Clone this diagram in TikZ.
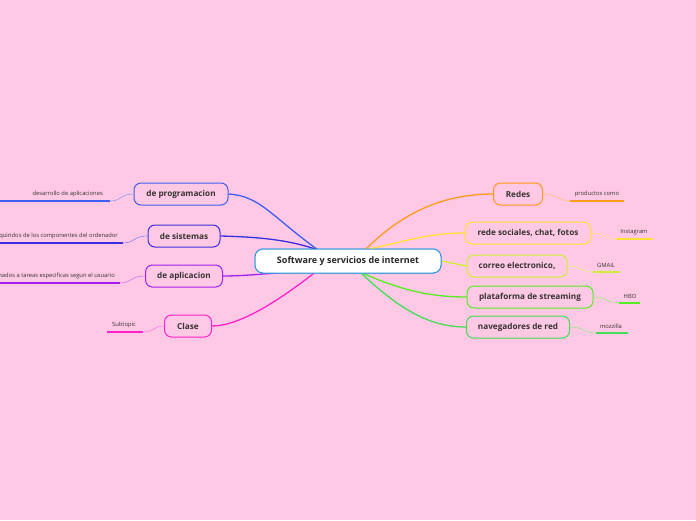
\documentclass[tikz,border=0pt]{standalone}
\usepackage{fontspec}
\setmainfont{Open Sans}
\definecolor{bg}{HTML}{FFC8E4}
\definecolor{cprog}{HTML}{3F5FF0}
\definecolor{csis}{HTML}{3A2FE0}
\definecolor{capl}{HTML}{A020F0}
\definecolor{ccla}{HTML}{FF22CC}
\definecolor{cred}{HTML}{FF9A1A}
\definecolor{csoc}{HTML}{FFE033}
\definecolor{ccor}{HTML}{CCF033}
\definecolor{cpla}{HTML}{55EE22}
\definecolor{cnav}{HTML}{44DD55}
\definecolor{cmain}{HTML}{3399DD}
\tikzset{
 topic/.style={draw=#1, line width=1pt, rounded corners=7pt, fill=bg, minimum height=22pt, font=\fontsize{8.2}{9}\selectfont\bfseries, text=black!80, inner xsep=8pt},
 sub/.style={font=\fontsize{5.8}{7}\selectfont, text=black!80, inner sep=1pt},
 conn/.style={draw=#1, line width=1.3pt},
 thin/.style={draw=#1!60, line width=0.6pt},
 ul/.style={draw=#1, line width=1.5pt},
 mainbox/.style={draw=cmain, line width=1pt, fill=white, rounded corners=8pt, minimum width=186pt, minimum height=24pt, font=\fontsize{9}{10}\selectfont\bfseries, text=black!85}
}
\begin{document}
\begin{tikzpicture}[x=1pt,y=-1pt]
\fill[bg] (0,0) rectangle (696,520);
\useasboundingbox (0,0) rectangle (696,520);
\clip (0,0) rectangle (696,520);
\node[mainbox] (c) at (348,261) {Software y servicios de internet};
% left topics
\node[topic=cprog, minimum width=94pt] (p) at (181,194) {de programacion};
\node[topic=csis, minimum width=72pt] (s) at (184,236) {de sistemas};
\node[topic=capl, minimum width=77pt] (a) at (184,276) {de aplicacion};
\node[topic=ccla, minimum width=47pt] (k) at (188,326) {Clase};
% right topics
\node[topic=cred, minimum width=49pt] (r) at (518,194) {Redes};
\node[topic=csoc, minimum width=125pt] (rs) at (528,233) {rede sociales, chat, fotos};
\node[topic=ccor, minimum width=100pt] (co) at (517,266) {correo electronico,};
\node[topic=cpla, minimum width=126pt] (pl) at (530,297) {plataforma de streaming};
\node[topic=cnav, minimum width=103pt] (nv) at (518,327) {navegadores de red};
% main connectors
\coordinate (c1) at (318,250);
\coordinate (c2) at (365,250);
\coordinate (c3) at (360,272);
\draw[conn=cprog] (c1) .. controls (270,215) and (260,196) .. (p.east);
\draw[conn=csis] (c1) .. controls (290,240) and (260,237) .. (s.east);
\draw[conn=capl] (c1) ++(0,20) .. controls (280,272) and (250,276) .. (a.east);
\draw[conn=ccla] (c1) ++(0,20) .. controls (280,300) and (240,326) .. (k.east);
\draw[conn=cred] (c2) .. controls (400,215) and (440,194) .. (r.west);
\draw[conn=csoc] (c2) .. controls (410,240) and (430,233) .. (rs.west);
\draw[conn=ccor] (c.east) -- (co.west);
\draw[conn=cpla] (c3) .. controls (400,290) and (430,297) .. (pl.west);
\draw[conn=cnav] (c3) .. controls (400,310) and (430,327) .. (nv.west);
% left subtopics
\node[sub, anchor=south east] (pt) at (104,198) {desarrollo de aplicaciones};
\coordinate (pl1) at (110,201);
\draw[ul=cprog] (0,201) -- (pl1);
\draw[thin=cprog] (p.west) .. controls (120,194) and (122,201) .. (pl1);
\node[sub, anchor=south east] (st) at (119,240) {adquiridos de los componentes del ordenador};
\coordinate (sl1) at (123,243);
\draw[ul=csis] (0,243) -- (sl1);
\draw[thin=csis] (s.west) .. controls (133,236) and (135,243) .. (sl1);
\node[sub, anchor=south east] (at) at (116,280) {destinados a tareas especificas segun el usuario};
\coordinate (al1) at (120,283);
\draw[ul=capl] (0,283) -- (al1);
\draw[thin=capl] (a.west) .. controls (130,276) and (132,283) .. (al1);
\node[sub, anchor=south] (kt) at (124,329) {Subtopic};
\coordinate (kl1) at (143,332);
\draw[ul=ccla] (107,332) -- (kl1);
\draw[thin=ccla] (k.west) .. controls (153,326) and (155,332) .. (kl1);
% right subtopics
\node[sub, anchor=south] at (597,198) {productos como};
\coordinate (rl1) at (570,201);
\draw[ul=cred] (rl1) -- (624,201);
\draw[thin=cred] (r.east) .. controls (558,194) and (558,201) .. (rl1);
\node[sub, anchor=south] at (634,236) {Instagram};
\coordinate (sl2) at (616,239);
\draw[ul=csoc] (sl2) -- (653,239);
\draw[thin=csoc] (rs.east) .. controls (604,233) and (604,239) .. (sl2);
\node[sub, anchor=south] at (606,269) {GMAIL};
\coordinate (cl2) at (593,272);
\draw[ul=ccor] (cl2) -- (620,272);
\draw[thin=ccor] (co.east) .. controls (581,266) and (581,272) .. (cl2);
\node[sub, anchor=south] at (630,300) {HBO};
\coordinate (hl2) at (619,303);
\draw[ul=cpla] (hl2) -- (640,303);
\draw[thin=cpla] (pl.east) .. controls (607,297) and (607,303) .. (hl2);
\node[sub, anchor=south] at (611,330) {mozzilla};
\coordinate (ml2) at (596,333);
\draw[ul=cnav] (ml2) -- (628,333);
\draw[thin=cnav] (nv.east) .. controls (584,327) and (584,333) .. (ml2);
\node[mainbox] at (348,261) {Software y servicios de internet};
\end{tikzpicture}
\end{document}
